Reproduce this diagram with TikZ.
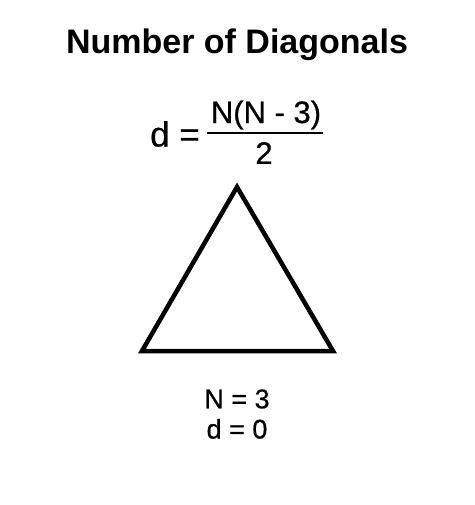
\documentclass[tikz,border=0pt]{standalone}
\usepackage{fontspec}
\setmainfont{Liberation Sans}
\newfontfamily\mediumfont[FakeBold=0.6]{Liberation Sans}
\usetikzlibrary{positioning}

\begin{document}
\begin{tikzpicture}[x=1pt, y=1pt,
    every node/.style={
        inner sep=0pt,
        text=black
    },
    bigtext/.style={font=\mediumfont\fontsize{31}{36}\selectfont},
    smalltext/.style={font=\mediumfont\fontsize{27}{32}\selectfont}
]
    \useasboundingbox[fill=white] (0, 0) rectangle (474, -505);

    \node (title) [font=\bfseries\fontsize{34}{40}\selectfont] at (237, -45)
    {
        Number of Diagonals
    };

    \node (d_eq) [font=\mediumfont\fontsize{35}{40}\selectfont, anchor=east] at (200, -134)
    {
        d =
    };

    \node (numerator) [bigtext] at (266, -115)
    {
        N(N - 3)
    };

    \node (denominator) [bigtext] at (264, -153)
    {
        2
    };

    \coordinate (bar_left) at (207, -133);
    \coordinate (bar_right) at (323, -133);
    \draw[line width=2.5pt] (bar_left) -- (bar_right);

    \coordinate (apex) at (237, -187);
    \coordinate (corner_left) at (142, -351);
    \coordinate (corner_right) at (333, -351);
    \draw[line width=4.5pt, line join=miter] (apex) -- (corner_left) -- (corner_right) -- cycle;

    \node (n_value) [smalltext] at (237, -399)
    {
        N = 3
    };

    \node (d_value) [smalltext, below=10pt of n_value]
    {
        d = 0
    };

\end{tikzpicture}
\end{document}
